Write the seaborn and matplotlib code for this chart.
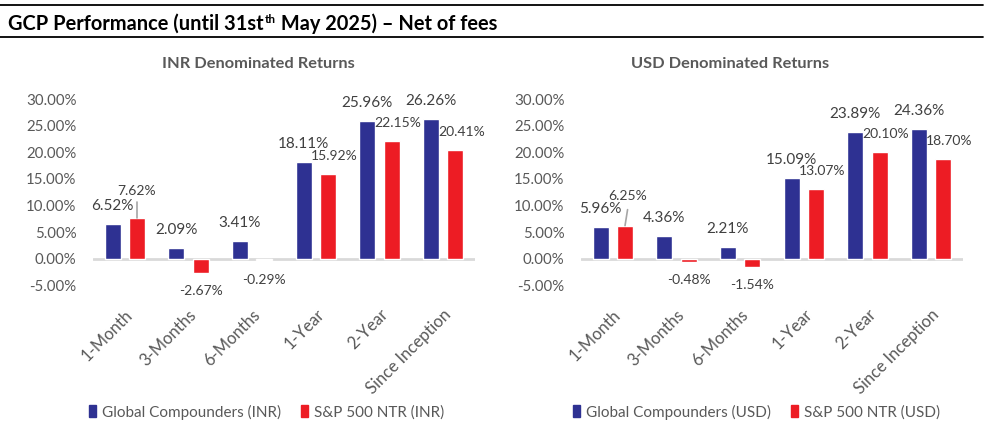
import pandas as pd
import numpy as np
import matplotlib
matplotlib.use('Agg')
import matplotlib.pyplot as plt
from matplotlib.lines import Line2D
from matplotlib.patches import Patch
from matplotlib.ticker import FuncFormatter
import seaborn as sns

sns.set_theme(style='white')
plt.rcParams['font.family'] = ['Lato', 'DejaVu Sans']

# data (% returns)
periods = ['1-Month', '3-Months', '6-Months', '1-Year', '2-Year', 'Since Inception']
inr_gc = [6.52, 2.09, 3.41, 18.11, 25.96, 26.26]
inr_sp = [7.62, -2.67, -0.29, 15.92, 22.15, 20.41]
usd_gc = [5.96, 4.36, 2.21, 15.09, 23.89, 24.36]
usd_sp = [6.25, -0.48, -1.54, 13.07, 20.10, 18.70]

blue = '#2E3192'
red = '#ED1C24'
grey = '#595959'
lab_col = '#404040'

fig = plt.figure(figsize=(9.9, 4.4), dpi=100)

# title with superscript "th"
t1 = fig.text(8 / 990, 1 - 30 / 440, 'GCP Performance (until 31st', fontsize=14.4, fontweight='bold',
              color='black', va='baseline')
fig.canvas.draw()
r = fig.canvas.get_renderer()
bb = t1.get_window_extent(r)
t2 = fig.text(bb.x1 / 990 + 0.001, 1 - 23 / 440, 'th', fontsize=8.5, fontweight='bold', color='black',
              va='baseline')
bb2 = t2.get_window_extent(r)
fig.text(bb2.x1 / 990, 1 - 30 / 440, ' May 2025) \u2013 Net of fees', fontsize=14.4, fontweight='bold',
         color='black', va='baseline')
fig.add_artist(Line2D([0, 983 / 990], [1 - 5 / 440, 1 - 5 / 440], color='black', lw=1.3))
fig.add_artist(Line2D([0, 983 / 990], [1 - 37 / 440, 1 - 37 / 440], color='black', lw=1.3))

# panel setup: left px, title, title centre px, series, currency, legend x px, label nudges
panels = [
    (93, 'INR Denominated Returns', 258, inr_gc, inr_sp, 'INR', 86,
     {0: (0, 27), 1: (0, -18), 2: (0, -20)}),
    (581, 'USD Denominated Returns', 730, usd_gc, usd_sp, 'USD', 570,
     {0: (3, 30), 1: (0, -18), 2: (0, -18)}),
]

for left, title, tx, gc, sp, cur, legx, nudges in panels:
    ax = fig.add_axes([left / 990, 1 - 285.6 / 440, 382 / 990, (285.6 - 99) / 440])
    df = pd.DataFrame({
        'period': periods * 2,
        'ret': gc + sp,
        'series': ['Global Compounders (%s)' % cur] * 6 + ['S&P 500 NTR (%s)' % cur] * 6,
    })
    sns.barplot(data=df, x='period', y='ret', hue='series', palette=[blue, red], ax=ax,
                width=0.766, gap=0.35, saturation=1, legend=False, errorbar=None)
    ax.set_ylim(-5, 30)
    ax.set_xlim(-0.5, 5.5)
    ax.set_yticks(np.arange(-5, 31, 5))
    ax.yaxis.set_major_formatter(FuncFormatter(lambda v, p: '%.2f%%' % v))
    ax.axhline(0, color='#D9D9D9', lw=2, zorder=0.5)
    for s in ax.spines.values():
        s.set_visible(False)
    ax.set_xlabel('')
    ax.set_ylabel('')
    ax.tick_params(axis='y', labelsize=10.8, labelcolor=grey, pad=12, length=0)
    ax.tick_params(axis='x', labelsize=12, labelcolor=grey, pad=15, length=0)
    plt.setp(ax.get_xticklabels(), rotation=45, ha='right', rotation_mode='anchor')
    ax.patch.set_alpha(0)

    # data labels
    n = len(periods)
    bars = ax.patches[:2 * n]
    for i, b in enumerate(bars[:n]):
        xc = b.get_x() + b.get_width() / 2
        ax.annotate('%.2f%%' % gc[i], (xc, gc[i]), xytext=(0, 18), textcoords='offset pixels',
                    ha='center', va='center', fontsize=11, color=lab_col)
    for i, b in enumerate(bars[n:]):
        xc = b.get_x() + b.get_width() / 2
        v = sp[i]
        dx, dy = nudges.get(i, (6, 18))
        ax.annotate('%.2f%%' % v, (xc, v), xytext=(dx, dy), textcoords='offset pixels',
                    ha='center', va='center', fontsize=10, color=lab_col)
        if i == 0:
            # leader line to the displaced label
            ax.plot([xc, xc + 0.04 * (dx > 0)], [v, v + 3.0], color='#A6A6A6', lw=1.2, clip_on=False)

    fig.text(tx / 990, 1 - 64 / 440, title, ha='center', va='center', fontsize=11.8,
             fontweight='bold', color=grey)

    handles = [Patch(color=blue), Patch(color=red)]
    fig.legend(handles, ['Global Compounders (%s)' % cur, 'S&P 500 NTR (%s)' % cur],
               loc='center left', bbox_to_anchor=(legx / 990 - 0.011, 1 - 412 / 440), ncol=2,
               frameon=False, fontsize=11, labelcolor=grey, handlelength=0.5, handleheight=0.8,
               handletextpad=0.35, columnspacing=1.3)

fig.savefig('out.png', dpi=100)
